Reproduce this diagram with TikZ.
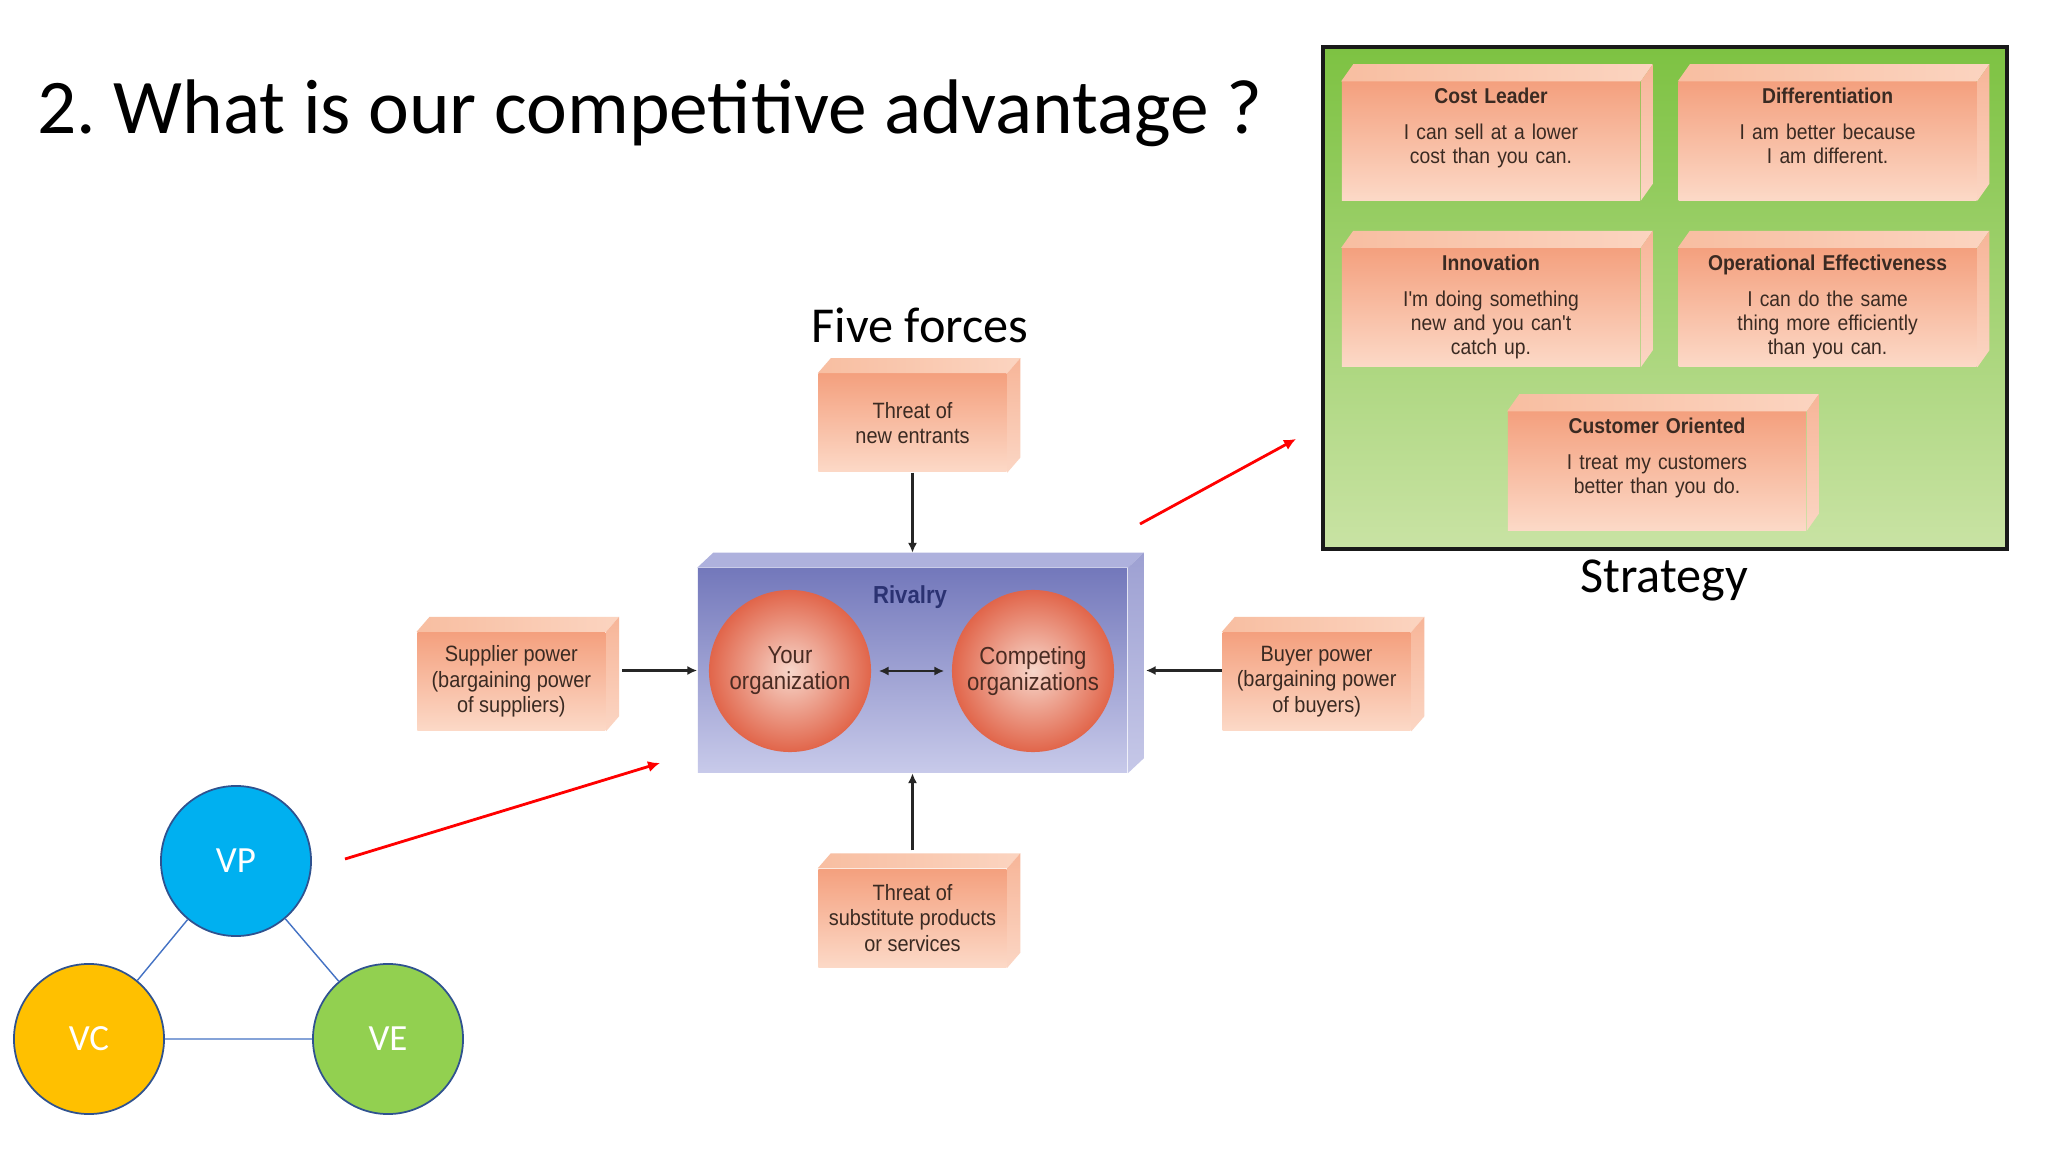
\documentclass[tikz,border=0pt]{standalone}
\usepackage{fontspec}
\setmainfont{Carlito}
\newfontfamily\arialf[FakeStretch=0.9]{Liberation Sans}
\usepackage{xcolor}
\usepackage{tikz}
\usetikzlibrary{shapes, arrows, arrows.meta, positioning, calc}

\definecolor{peachtop}{HTML}{F4A07E}
\definecolor{peachbot}{HTML}{FCD9C7}
\definecolor{peachlidl}{HTML}{F8BEA1}
\definecolor{peachlidr}{HTML}{FBD4C0}
\definecolor{peachsidet}{HTML}{F7B598}
\definecolor{peachsideb}{HTML}{FBD6C4}
\definecolor{peachtext}{HTML}{3A2A22}
\definecolor{rivtop}{HTML}{7378BB}
\definecolor{rivbot}{HTML}{C8CAEA}
\definecolor{rivlid}{HTML}{AEB1DD}
\definecolor{rivsidet}{HTML}{9DA0D2}
\definecolor{rivsideb}{HTML}{C6C8E8}
\definecolor{rivtext}{HTML}{2B3272}
\definecolor{orbin}{HTML}{F7D6CA}
\definecolor{orbout}{HTML}{E1654A}
\definecolor{orbtext}{HTML}{4A2B22}
\definecolor{greentop}{HTML}{7DC242}
\definecolor{greenbot}{HTML}{C9E3A4}
\definecolor{vpblue}{HTML}{00B0F0}
\definecolor{vcgold}{HTML}{FFC000}
\definecolor{vegreen}{HTML}{92D050}
\definecolor{ringblue}{HTML}{2F528F}
\definecolor{linkblue}{HTML}{4472C4}

\begin{document}
\begin{tikzpicture}[x=0.01cm, y=-0.01cm, node distance=0.96cm]
    \tikzstyle{fbox} = [rectangle, top color=peachtop, bottom color=peachbot, text=peachtext,
                        minimum width=1.88cm, minimum height=0.98cm, inner sep=0pt,
                        align=center, font=\arialf\fontsize{6.3}{7.3}\selectfont]
    \tikzstyle{card} = [rectangle, top color=peachtop, bottom color=peachbot, text=peachtext,
                        text width=2.98cm, text height=0.22cm, text depth=0.96cm, inner sep=0pt,
                        align=center, font=\arialf\fontsize{6.1}{6.8}\selectfont]
    \tikzstyle{orb} = [circle, minimum size=1.62cm, inner sep=0pt, inner color=orbin,
                       outer color=orbout, text=orbtext, align=center,
                       font=\arialf\fontsize{7}{7.4}\selectfont]
    \tikzstyle{vcirc} = [circle, draw=ringblue, line width=0.5pt, minimum size=1.5cm,
                         text=white, font=\fontsize{10.5}{12}\selectfont]
    \tikzstyle{farrow} = [line width=0.6pt, draw=black!85, >={Latex[length=2.8pt, width=2.6pt]}]
    \tikzstyle{redarrow} = [->, line width=0.8pt, red, >={Latex[length=3.4pt, width=3.2pt]}]

    \fill[white] (0,0) rectangle (2048,1152);
    \useasboundingbox (0,0) rectangle (2048,1152);
    \node[anchor=base west, inner sep=0pt, font=\fontsize{22}{26}\selectfont] (title) at (37,134)
        {2.\ What is our competitive advantage ?};

    % strategy panel
    \node[rectangle, draw=black!90, line width=1pt, top color=greentop, bottom color=greenbot,
          minimum width=6.84cm, minimum height=5.02cm] (strat) at (1665,298) {};
    \node[card] (cost) at (1491,141) {\textbf{Cost Leader}\\[3.4pt] I can sell at a lower\\ cost than you can.};
    \node[card, right=0.37cm of cost] (diff) {\textbf{Differentiation}\\[3.4pt] I am better because\\ I am different.};
    \node[card, below=0.47cm of cost] (innov) {\textbf{Innovation}\\[3.4pt] I'm doing something\\ new and you can't\\ catch up.};
    \node[card, right=0.37cm of innov] (opeff) {\textbf{Operational Effectiveness}\\[3.4pt] I can do the same\\ thing more efficiently\\ than you can.};
    \node[card] (cust) at (1657,471) {\textbf{Customer Oriented}\\[3.4pt] I treat my customers\\ better than you do.};
    \foreach \n in {cost,diff,innov,opeff,cust} {
        \shade[left color=peachlidl, right color=peachlidr] (\n.north west) -- ++(0.12cm,0.17cm) -- ([shift={(0.12cm,0.17cm)}]\n.north east) -- (\n.north east) -- cycle;
        \shade[top color=peachsidet, bottom color=peachsideb] (\n.north east) -- ++(0.12cm,0.17cm) -- ([shift={(0.12cm,0.17cm)}]\n.south east) -- (\n.south east) -- cycle;
    }
    \node[anchor=base, font=\fontsize{14.3}{17}\selectfont] (stratlbl) at (1664,593) {Strategy};

    % five forces
    \node[anchor=base, font=\fontsize{14.3}{17}\selectfont] (fflbl) at (920,343) {Five forces};
    \node[rectangle, top color=rivtop, bottom color=rivbot, minimum width=4.29cm,
          minimum height=2.04cm, inner sep=0pt] (riv) at (912.5,670.5) {};
    \fill[rivlid] (riv.north west) -- ++(0.16cm,0.15cm) -- ([shift={(0.16cm,0.15cm)}]riv.north east) -- (riv.north east) -- cycle;
    \shade[top color=rivsidet, bottom color=rivsideb] (riv.north east) -- ++(0.16cm,0.15cm) -- ([shift={(0.16cm,0.15cm)}]riv.south east) -- (riv.south east) -- cycle;
    \node[fbox, above=0.95cm of riv] (entr) {Threat of\\new entrants};
    \node[fbox, below=0.95cm of riv] (subs) {Threat of\\substitute products\\or services};
    \node[fbox, left=0.91cm of riv, yshift=-0.11cm] (supp) {Supplier power\\(bargaining power\\of suppliers)};
    \node[fbox, right=0.94cm of riv, yshift=-0.11cm] (buy) {Buyer power\\(bargaining power\\of buyers)};
    \foreach \n in {entr,subs,supp,buy} {
        \shade[left color=peachlidl, right color=peachlidr] (\n.north west) -- ++(0.13cm,0.15cm) -- ([shift={(0.13cm,0.15cm)}]\n.north east) -- (\n.north east) -- cycle;
        \shade[top color=peachsidet, bottom color=peachsideb] (\n.north east) -- ++(0.13cm,0.15cm) -- ([shift={(0.13cm,0.15cm)}]\n.south east) -- (\n.south east) -- cycle;
    }
    \node[orb] (yours) at (790,671) {Your\\organization};
    \node[orb] (comp) at (1033,671) {Competing\\organizations};
    \node[font=\arialf\bfseries\fontsize{7}{8}\selectfont, text=rivtext] (rivlbl) at (910,597) {Rivalry};

    \draw[farrow, <->, shorten <=0.07cm, shorten >=0.07cm] (yours) -- (comp);
    \draw[farrow, ->, shorten >=0.15cm] (entr) -- (riv);
    \draw[farrow, ->, shorten <=0.18cm] (subs) -- (riv);
    \draw[farrow, ->, shorten <=0.16cm] (supp.east |- riv.west) -- (riv.west);
    \draw[farrow, ->, shorten >=0.18cm] (buy.west |- riv.east) -- (riv.east);

    % pointers
    \coordinate (r1a) at (1140,524);
    \coordinate (r1b) at (1296,439);
    \coordinate (r2a) at (345,859);
    \coordinate (r2b) at (660,763);
    \draw[redarrow] (r1a) -- (r1b);
    \draw[redarrow] (r2a) -- (r2b);

    % value triangle
    \node[vcirc, fill=vpblue] (vp) at (236,861) {VP};
    \node[vcirc, fill=vcgold] (vc) at (89,1039) {VC};
    \node[vcirc, fill=vegreen] (ve) at (388,1039) {VE};
    \draw[linkblue, line width=0.4pt] (vp) -- (vc) (vp) -- (ve) (vc) -- (ve);
\end{tikzpicture}
\end{document}
